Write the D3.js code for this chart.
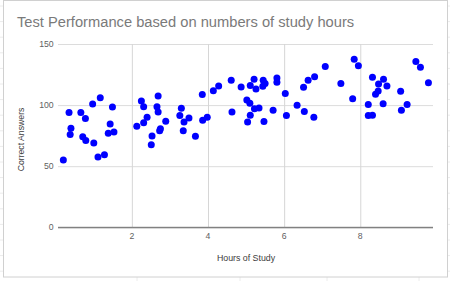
<!DOCTYPE html>
<html>
<head>
<meta charset="utf-8">
<script src="https://cdn.jsdelivr.net/npm/d3@7"></script>
<style>
  body { margin: 0; background: #fff; }
  svg { display: block; font-family: "Liberation Sans", Arial, sans-serif; }
</style>
</head>
<body>
<div id="vis-container"></div>
<script>
const width = 450,
      height = 281;

// plot area inside the chart box
const plot = { left: 58, right: 433, top: 44, bottom: 227.3 };

// ******* Data *******
var hours = [0.20, 0.35, 0.40, 0.38, 0.66, 0.78, 0.71, 0.79, 0.97, 1.17, 1.00, 1.49, 1.43, 1.38, 1.53, 1.11, 1.28,
             2.13, 2.25, 2.31, 2.40, 2.31, 2.53, 2.51, 2.69, 2.66, 2.69, 2.89, 2.75, 2.73, 3.30, 3.26, 3.37, 3.50,
             3.35, 3.67, 3.85, 3.86, 3.98, 4.14, 4.28, 4.61, 4.63, 4.87,
             5.21, 5.11, 5.26, 5.45, 5.50, 5.44, 5.81, 5.81, 5.02, 5.10, 5.22, 5.34, 5.11, 5.04, 5.47, 5.71,
             6.03, 6.06, 6.34, 6.53, 6.78, 6.51, 6.63, 6.80, 7.08, 7.49,
             7.84, 7.95, 7.80, 8.32, 8.48, 8.61, 8.70, 8.47, 8.40, 8.21, 8.60, 8.21, 8.32, 9.06, 9.23, 9.08,
             9.46, 9.58, 9.79];
var answers = [55, 94, 81, 76, 94, 89, 74, 71, 101, 106, 69, 98.5, 84.6, 77, 78, 57.6, 59.4,
               82.7, 103.4, 98.7, 90.1, 85.6, 74.8, 67.6, 107.5, 98.7, 94.4, 86.8, 80.7, 79.1, 97.4, 91.4, 86.2, 89.5,
               79.1, 74.5, 108.6, 87.6, 90.1, 111.8, 115.7, 120.4, 94.4, 114.9,
               121.2, 116, 113.2, 120.4, 117.6, 115.5, 122.2, 118.7, 104.2, 101.5, 97.1, 97.7, 91.7, 86.2, 86.5, 95.8,
               109.4, 91.4, 99.9, 94.7, 90.1, 114.6, 120.4, 123.1, 131.5, 117.6,
               137.6, 132.1, 105.1, 122.8, 117.3, 121.2, 115.7, 111.6, 108.9, 100.4, 101.2, 91.4, 91.7, 111.4, 100.4, 95.8,
               135.6, 131, 118.2];

var xTicks = [2, 4, 6, 8];
var yTicks = [0, 50, 100, 150];

var chartTitle = "Test Performance based on numbers of study hours";
var xTitle = "Hours of Study";
var yTitle = "Correct Answers";

var points = hours.map(function(h, i) { return { x: h, y: answers[i] }; });

// ******* Scales *******
var x = d3.scaleLinear().domain([0.06, 9.91]).range([plot.left, plot.right]);
var y = d3.scaleLinear().domain([0, 150]).range([plot.bottom, plot.top]);

var svg = d3.select("#vis-container").append("svg")
    .attr("width", width)
    .attr("height", height);

// spreadsheet gridlines peeking out behind the chart
var rowLines = d3.range(6, 281, 15.6);
svg.selectAll(".row").data(rowLines).enter().append("line")
    .attr("x1", 0).attr("x2", width)
    .attr("y1", function(d) { return d; }).attr("y2", function(d) { return d; })
    .attr("stroke", "#ececec");
[137, 240, 327, 419].forEach(function(c) {
    svg.append("line").attr("x1", c).attr("x2", c).attr("y1", 0).attr("y2", height).attr("stroke", "#ececec");
});

// chart box
svg.append("rect")
    .attr("x", 3.5).attr("y", 0.5)
    .attr("width", 444).attr("height", 276.5)
    .attr("fill", "#fff")
    .attr("stroke", "#d0d0d0");

// title
svg.append("text")
    .attr("x", 17)
    .attr("y", 26.5)
    .attr("font-size", 14.7)
    .attr("fill", "#7a7a7a")
    .text(chartTitle);

// horizontal gridlines
svg.append("g")
    .attr("transform", `translate(${plot.left} 0)`)
    .call(d3.axisLeft(y).tickValues(yTicks).tickSize(-(plot.right - plot.left)).tickFormat(""))
    .call(function(g) {
        g.select(".domain").remove();
        g.selectAll(".tick line").attr("stroke", function(d) { return d === 0 ? "#7a7a7a" : "#dcdcdc"; });
    });

// vertical gridlines
svg.append("g")
    .attr("transform", `translate(0 ${plot.bottom})`)
    .call(d3.axisBottom(x).tickValues(xTicks).tickSize(-(plot.bottom - plot.top)).tickFormat(""))
    .call(function(g) {
        g.select(".domain").remove();
        g.selectAll(".tick line").attr("stroke", "#d6d6d6");
    });

// baseline redrawn on top
svg.append("line")
    .attr("x1", plot.left).attr("x2", plot.right)
    .attr("y1", y(0)).attr("y2", y(0))
    .attr("stroke", "#7a7a7a");

// tick labels
svg.selectAll(".ylab").data(yTicks).enter().append("text")
    .attr("x", 53.7)
    .attr("y", function(d) { return y(d); })
    .attr("dy", "0.35em")
    .attr("text-anchor", "end")
    .attr("font-size", 8.7)
    .attr("fill", "#5f5f5f")
    .text(function(d) { return d; });

svg.selectAll(".xlab").data(xTicks).enter().append("text")
    .attr("x", function(d) { return x(d); })
    .attr("y", 236.3)
    .attr("dy", "0.35em")
    .attr("text-anchor", "middle")
    .attr("font-size", 8.7)
    .attr("fill", "#5f5f5f")
    .text(function(d) { return d; });

// axis titles
svg.append("text")
    .attr("x", 246)
    .attr("y", 258)
    .attr("dy", "0.35em")
    .attr("text-anchor", "middle")
    .attr("font-size", 8.8)
    .attr("fill", "#3c3c3c")
    .text(xTitle);

svg.append("text")
    .attr("transform", "translate(20.8 139.5) rotate(-90)")
    .attr("dy", "0.35em")
    .attr("text-anchor", "middle")
    .attr("font-size", 8.7)
    .attr("fill", "#3c3c3c")
    .text(yTitle);

// ******* Add data *******
svg.selectAll("circle")
    .data(points)
    .enter()
    .append("circle")
    .attr("cx", function(d) { return x(d.x); })
    .attr("cy", function(d) { return y(d.y); })
    .attr("r", 3.5)
    .attr("fill", "#0000ff");
</script>
</body>
</html>
